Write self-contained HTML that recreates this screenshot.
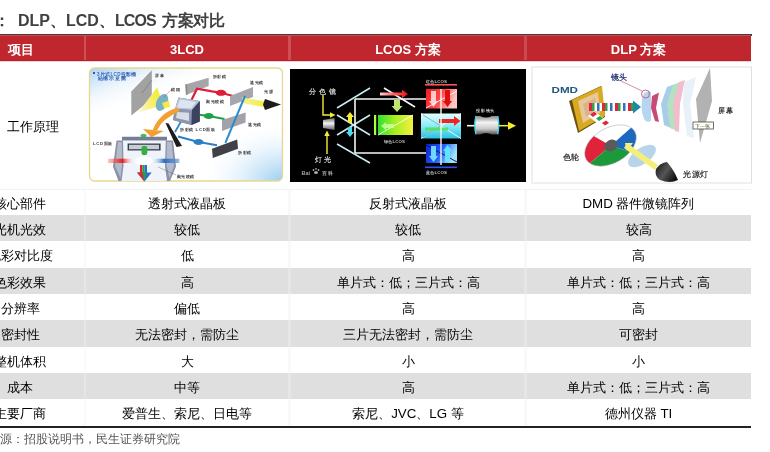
<!DOCTYPE html>
<html><head><meta charset="utf-8">
<style>
html,body{margin:0;padding:0;background:#fff;}
#cells,.hcell,#title,#title0,#title2,#src{will-change:transform;}
body{width:770px;height:452px;position:relative;overflow:hidden;font-family:"Liberation Sans",sans-serif;color:#222;}
.abs{position:absolute;}
#title0{left:-22.5px;top:9px;font-size:16px;font-weight:bold;color:#404040;white-space:nowrap;line-height:24px;}
#title{left:18px;top:9px;font-size:16px;font-weight:bold;color:#404040;white-space:nowrap;line-height:24px;}
#title2{left:162px;top:9px;font-size:16px;font-weight:bold;color:#404040;white-space:nowrap;line-height:24px;letter-spacing:-0.4px;}
#topline{left:0;top:33.5px;width:752px;height:2px;background:#3c3c3c;}
#hdr{left:0;top:35px;width:751px;height:25.7px;background:#c0262d;}
.hcell{position:absolute;top:36.5px;height:26.5px;line-height:26.5px;color:#fff;font-weight:bold;font-size:13px;text-align:center;}
.vline{position:absolute;width:1px;}
.row{position:absolute;left:0;width:751px;height:26.33px;}
.gray{background:#dfdfdf;}
.cell{position:absolute;height:26.33px;line-height:29.33px;font-size:13.3px;text-align:center;white-space:nowrap;color:#000;}
#botline{left:0;top:425.7px;width:751px;height:2px;background:#222;}
#src{left:-12px;top:430px;font-size:11.7px;color:#555;white-space:nowrap;line-height:18px;}
</style></head><body>
<div id="title0" class="abs">表：</div><div id="title" class="abs">DLP、LCD、<span style="letter-spacing:-0.9px">LCOS</span></div><div id="title2" class="abs">方案对比</div>
<div id="topline" class="abs"></div>
<div id="hdr" class="abs"></div>
<div class="hcell" style="left:-43px;width:128px;">项目</div>
<div class="hcell" style="left:84px;width:206px;">3LCD</div>
<div class="hcell" style="left:290px;width:236px;">LCOS 方案</div>
<div class="hcell" style="left:526px;width:225px;">DLP 方案</div>
<div class="abs" style="left:0;top:35px;width:751px;height:1.2px;background:#cc4a50;"></div>
<div class="abs" style="left:0;top:59.7px;width:751px;height:1px;background:#b81e26;"></div>
<div class="abs" style="left:0;top:60.7px;width:751px;height:1px;background:#f0d4d6;"></div>
<div class="vline" style="left:83.5px;top:36px;height:24px;width:2.5px;background:#cc5056;"></div>
<div class="vline" style="left:288.2px;top:36px;height:24px;width:2.5px;background:#cc5056;"></div>
<div class="vline" style="left:524px;top:36px;height:24px;width:2.5px;background:#c94a50;"></div>

<!-- image row -->
<div class="cell" style="left:7px;width:53px;top:61.5px;height:127px;line-height:130px;text-align:left;">工作原理</div>
<svg class="abs" style="left:84px;top:62px;" width="206" height="126" viewBox="84 62 206 126">
<defs>
<linearGradient id="bgTL" x1="0" y1="0" x2="0.35" y2="0.6"><stop offset="0" stop-color="#a8d0f0"/><stop offset="0.5" stop-color="#e4f0fa" stop-opacity="0.7"/><stop offset="1" stop-color="#ffffff" stop-opacity="0"/></linearGradient>
<radialGradient id="bgBR" cx="1" cy="1" r="0.75"><stop offset="0" stop-color="#98ccf0"/><stop offset="0.45" stop-color="#d4eafa" stop-opacity="0.8"/><stop offset="1" stop-color="#ffffff" stop-opacity="0"/></radialGradient>
<radialGradient id="bgBL" cx="0" cy="1" r="0.5"><stop offset="0" stop-color="#c8e0f4"/><stop offset="1" stop-color="#ffffff" stop-opacity="0"/></radialGradient>
<linearGradient id="ylw" x1="1" y1="0.3" x2="0" y2="0.8"><stop offset="0" stop-color="#f2ea30"/><stop offset="0.6" stop-color="#f6f080"/><stop offset="1" stop-color="#fbf8d0"/></linearGradient>
<linearGradient id="arR" x1="0" y1="0" x2="1" y2="0"><stop offset="0" stop-color="#f08070" stop-opacity="0.4"/><stop offset="0.55" stop-color="#e82020"/><stop offset="1" stop-color="#ffffff" stop-opacity="0.2"/></linearGradient>
<linearGradient id="arB" x1="0" y1="0" x2="1" y2="0"><stop offset="0" stop-color="#ffffff" stop-opacity="0.2"/><stop offset="0.45" stop-color="#2a6ec0"/><stop offset="1" stop-color="#5a90d0" stop-opacity="0.6"/></linearGradient>
<linearGradient id="frm" x1="0" y1="0" x2="1" y2="0"><stop offset="0" stop-color="#7a8298"/><stop offset="0.5" stop-color="#aab2c4"/><stop offset="1" stop-color="#6a7288"/></linearGradient>
<linearGradient id="ylb" x1="0" y1="0" x2="1" y2="0"><stop offset="0" stop-color="#f4f090"/><stop offset="1" stop-color="#f4ee40"/></linearGradient>
<clipPath id="lcdclip"><rect x="89.5" y="68" width="193" height="113" rx="5"/></clipPath>
<filter id="bl2"><feGaussianBlur stdDeviation="0.5"/></filter>
</defs>
<g filter="url(#bl2)">
<rect x="89.5" y="68" width="193" height="113" rx="5" fill="#fff"/>
<g clip-path="url(#lcdclip)">
<rect x="89" y="67" width="110" height="70" fill="url(#bgTL)"/>
<rect x="170" y="100" width="114" height="82" fill="url(#bgBR)"/>

</g>
<rect x="89.5" y="68" width="193" height="113" rx="5" fill="none" stroke="#e6d890" stroke-width="1.3"/>
<g font-family="Liberation Sans" font-weight="bold">
<!-- title -->
<rect x="93" y="72" width="2" height="2" fill="#2a5ab0"/>
<text x="97" y="75.5" font-size="4.6" fill="#3a68b8" letter-spacing="0.3">3片式LCD投影機</text>
<text x="97.5" y="80" font-size="4.6" fill="#3a68b8" letter-spacing="0.9">結構示意圖</text>
<g font-size="4.4" fill="#444" letter-spacing="0.6">
<text x="155" y="77">屏幕</text>
<text x="171" y="91">鏡頭</text>
<text x="212.5" y="77.5">折射鏡</text>
<text x="250" y="84">遮光鏡</text>
<text x="264" y="93">光源</text>
<text x="206" y="102.5">聚光稜鏡</text>
<text x="248" y="125.5">遮光鏡</text>
<text x="180" y="131">折射鏡 LCD面板</text>
<text x="238" y="154">折射鏡</text>
<text x="93" y="144.5">LCD面板</text>
<text x="176.5" y="178">聚光稜鏡</text>
</g>
</g>
<!-- screen -->
<polygon points="131.3,91.4 151.8,70.2 151.8,99 131.3,115.4" fill="#a2a2a2"/>
<line x1="142" y1="93" x2="152" y2="80" stroke="#555" stroke-width="0.4"/>
<!-- light cone -->
<polygon points="157.3,87.3 138,112.7 162.8,105" fill="url(#ylw)"/>
<ellipse cx="162" cy="102.4" rx="5.5" ry="9" fill="#78b0c8" transform="rotate(25 162 102.4)"/>
<polygon points="162,103 169,100.5 170,107 164,108" fill="#f2ec40"/>
<line x1="164" y1="97" x2="171" y2="90" stroke="#c04040" stroke-width="0.4"/>
<!-- top mirror -->
<polygon points="185.4,84.6 208.7,77.7 208.7,86 186,94.9" fill="#a6a6a8"/>
<polygon points="185.4,84.6 187,84.2 187.6,94.3 186,94.9" fill="#8a8a8c"/>
<!-- red path -->
<polyline points="191.5,100 197,88.7 212,91.4 221,92.8 234,96.2" fill="none" stroke="#e01a3a" stroke-width="2.2"/>
<ellipse cx="221" cy="92.8" rx="5.2" ry="3" fill="#e01a3a"/>
<!-- dichroic 1 -->
<polygon points="230,96 253,87 253,97 230,106" fill="#a6a6ae"/>
<!-- yellow beam + lamp -->
<polygon points="242,97.5 266,101.5 266,107.5 242,103" fill="url(#ylb)"/>
<polygon points="265,99 281,104.5 265,110 263,104.5" fill="#1c1c1c"/>
<!-- dichroic 2 -->
<polygon points="222,120.1 245.6,112.5 245.6,122.6 222,131" fill="#a2a2aa"/>
<!-- blue line from dichroic down -->
<line x1="245" y1="96" x2="225.4" y2="142.8" stroke="#2a8ccc" stroke-width="2"/>
<!-- green path -->
<polyline points="199,114.8 208.7,116 224.5,118.9" fill="none" stroke="#1ea048" stroke-width="2"/>
<ellipse cx="208.7" cy="116" rx="5" ry="3" fill="#1ea048"/>
<!-- bottom dark mirror -->
<polygon points="212,148.7 237.2,139.4 238,148.7 212.8,158" fill="#404048"/>
<!-- blue path -->
<polyline points="178,136.5 198.5,142 217,145.3" fill="none" stroke="#2a80c4" stroke-width="2"/>
<ellipse cx="198.5" cy="142" rx="5" ry="3" fill="#2a80c4"/>
<line x1="183" y1="118" x2="175" y2="132" stroke="#2a8ccc" stroke-width="1.8"/>
<!-- cube -->
<polygon points="178.5,97.6 199.8,101 199.8,121.6 191.5,125 173,120 175,109" fill="#6c7490"/>
<polygon points="178.5,97.6 199.8,101 192,110 175,109" fill="#b8c4d8"/>
<polygon points="180,99.5 196,102 191,108.5 177,107.5" fill="#dce6f2"/>
<polygon points="175,109 192,110 191.5,125 173,120" fill="#8c96b0"/>
<polygon points="177,112 189,112.8 189,121 176,118" fill="#d8dee8"/>
<polygon points="192,110 199.8,101 199.8,121.6 191.5,125" fill="#3a4260"/>
<!-- dark mirror -->
<polygon points="165.5,123 168.5,123.5 182,146 176.5,147" fill="#1a1a1a"/>
<!-- orange arrow -->
<path d="M179,109 Q175,109 172,110 Q158,116 153,130 L157,130 Q162,119 179,111.5 Z" fill="#f2a030"/>
<path d="M178,109.5 Q162,114 155,130" fill="none" stroke="#f2a030" stroke-width="4"/>
<polygon points="143,128.9 163.9,130.9 151.4,137.3" fill="#f2a030"/>
<!-- prism box -->
<ellipse cx="143.5" cy="135.5" rx="3" ry="1.8" fill="#40c050"/>
<polygon points="122,136.8 167,136.8 167,140.4 122,140.4" fill="#767e96"/>
<polygon points="121.8,141 166.3,141 165.6,181 121,181" fill="#eef4fa"/>
<polygon points="116.5,140.6 123,140.6 123.5,166 121.5,181 118.5,181 113,166.5" fill="#8a92aa"/>
<polygon points="118,142 121.8,142 122,165 120.5,178 115,166" fill="#b4bccc"/>
<polygon points="165.8,140.6 173,140.6 176,166.5 170,181 167,181 165,166" fill="#8a92aa"/>
<polygon points="167,142 171.5,142 174,166 169.5,178 166.5,165" fill="#b4bccc"/>
<rect x="127.6" y="143.5" width="33" height="7" fill="#3a3e50"/>
<rect x="129" y="144.8" width="30" height="4.4" fill="#c8ccd4"/>
<rect x="141.5" y="146" width="5.8" height="9" rx="2" fill="#30b040"/>
<ellipse cx="144" cy="161" rx="9" ry="5" fill="#fff" opacity="0.85"/>
<rect x="107.9" y="158.7" width="26.3" height="4.3" fill="url(#arR)"/>
<rect x="151.7" y="158.7" width="27.7" height="4.3" fill="url(#arB)"/>
<!-- output arrow -->
<rect x="140" y="165" width="2.4" height="9" fill="#e02828"/>
<rect x="142.4" y="165" width="2.2" height="9" fill="#28a040"/>
<rect x="144.6" y="165" width="2.4" height="9" fill="#2870c8"/>
<polygon points="137,172.5 151.7,172.5 144.4,181.5" fill="#2870c8"/>
<polygon points="137,172.5 142.5,172.5 144.4,181.5" fill="#e02828"/>
<polygon points="142.5,172.5 146.3,172.5 144.4,181.5" fill="#28a040"/>
<line x1="158" y1="167" x2="176" y2="175" stroke="#555" stroke-width="0.4"/>
</g>
</svg>

<svg class="abs" style="left:290px;top:69px;" width="236" height="113" viewBox="0 0 236 113">
<defs>
<linearGradient id="lgG" x1="0" y1="0" x2="1" y2="0"><stop offset="0" stop-color="#30e030"/><stop offset="0.5" stop-color="#a8f020"/><stop offset="1" stop-color="#f4f040"/></linearGradient>
<linearGradient id="lgR" x1="0" y1="0" x2="1" y2="0.3"><stop offset="0" stop-color="#ff1818"/><stop offset="0.55" stop-color="#ff4a4a"/><stop offset="1" stop-color="#ffc8c8"/></linearGradient>
<linearGradient id="lgB" x1="0" y1="0" x2="1" y2="0.3"><stop offset="0" stop-color="#0a20d0"/><stop offset="0.55" stop-color="#2060ff"/><stop offset="1" stop-color="#a0e0ff"/></linearGradient>
<linearGradient id="lgC" x1="0" y1="0" x2="0" y2="1"><stop offset="0" stop-color="#e0ffff"/><stop offset="0.45" stop-color="#90f0fa"/><stop offset="1" stop-color="#28c0e0"/></linearGradient>
<linearGradient id="lgL" x1="0" y1="0" x2="0" y2="1"><stop offset="0" stop-color="#888"/><stop offset="0.35" stop-color="#f4f4f4"/><stop offset="0.7" stop-color="#c8c8c8"/><stop offset="1" stop-color="#505050"/></linearGradient>
<linearGradient id="lgLamp" x1="0" y1="0" x2="0" y2="1"><stop offset="0" stop-color="#707070"/><stop offset="0.45" stop-color="#f0f0f0"/><stop offset="1" stop-color="#606060"/></linearGradient>
<linearGradient id="lgRA" x1="0" y1="0" x2="1" y2="0"><stop offset="0" stop-color="#ffd0d0"/><stop offset="0.5" stop-color="#ff6060"/><stop offset="1" stop-color="#e81010"/></linearGradient>
<filter id="bl1"><feGaussianBlur stdDeviation="0.4"/></filter>
</defs>
<rect x="0" y="0" width="236" height="113" fill="#000"/>
<g filter="url(#bl1)">
<!-- left labels -->
<g font-family="Liberation Sans" font-weight="bold" fill="#d0d0d0">
<text x="18.5" y="24.5" font-size="6.6" letter-spacing="3.4">分色镜</text>
<text x="24.5" y="93" font-size="6.6" letter-spacing="2.6">灯光</text>
<text x="11.5" y="106" font-size="5.4" fill="#a8a8a8">Bai</text>
<circle cx="23.5" cy="101" r="0.9" fill="#a8a8a8"/><circle cx="26" cy="99.8" r="0.9" fill="#a8a8a8"/><circle cx="28.5" cy="101" r="0.9" fill="#a8a8a8"/><ellipse cx="26" cy="103.6" rx="2" ry="1.5" fill="#a8a8a8"/>
<text x="32" y="106" font-size="5.4" fill="#a8a8a8" letter-spacing="0.6">百科</text>
<text x="94" y="73.5" font-size="4.3" fill="#c0c0c0" letter-spacing="0.2">绿色LCOS</text>
<text x="136" y="13.5" font-size="4.3" fill="#c0c0c0" letter-spacing="0.2">红色LCOS</text>
<text x="136" y="104.5" font-size="4.3" fill="#c0c0c0" letter-spacing="0.2">蓝色LCOS</text>
<text x="186.4" y="43" font-size="4.3" fill="#c0c0c0" letter-spacing="0.6">投影镜头</text>
</g>
<!-- yellow L arrow -->
<polyline points="33,26 33,46 41,46" fill="none" stroke="#f4ec30" stroke-width="1.4"/>
<polygon points="40,43.3 45.5,46 40,48.7" fill="#f4ec30"/>
<line x1="37" y1="85" x2="37" y2="66" stroke="#f4ec30" stroke-width="1.4"/>
<polygon points="34.3,67 37,61.5 39.7,67" fill="#f4ec30"/>
<!-- lamp -->
<polygon points="33,51 44.5,49 44.5,61 33,59" fill="url(#lgLamp)"/>
<!-- mirrors -->
<g stroke="#c8eef4" stroke-width="1.5">
<line x1="47" y1="39" x2="80" y2="19"/>
<line x1="47" y1="46" x2="80" y2="66"/>
<line x1="47" y1="66" x2="80" y2="46"/>
<line x1="47" y1="75" x2="80" y2="94"/>
</g>
<!-- white lines -->
<g stroke="#f8f8f8" stroke-width="1.6">
<line x1="65" y1="30" x2="65" y2="84"/>
<line x1="65" y1="30" x2="136" y2="30"/>
<line x1="65" y1="84" x2="136" y2="84"/>
<line x1="94" y1="19" x2="125" y2="38"/>
<line x1="177" y1="56.7" x2="185" y2="56.7"/>
</g>
<!-- small arrows -->
<polygon points="58,54 58,48 56,48 60,43 64,48 62,48 62,54" fill="#f4ec30"/>
<polygon points="58,58 58,63 56,63 60,68 64,63 62,63 62,58" fill="#50d8f0"/>
<!-- green LCOS -->
<rect x="84" y="46" width="2.2" height="20" fill="#a8ff30"/>
<rect x="88" y="46" width="35" height="20" fill="url(#lgG)"/>
<line x1="88" y1="66" x2="123" y2="46" stroke="#f8fff0" stroke-width="0.9"/>
<polygon points="104,55 96,55 96,53 91,57 96,61 96,59 104,59" fill="#d0ffa0" opacity="0.85"/>
<!-- red arrow top -->
<polygon points="90,23.5 112,23.5 112,20.8 118,25 112,29.2 112,26.5 90,26.5" fill="url(#lgRA)"/>
<!-- green down arrow -->
<polygon points="104,31 110,31 110,37 112.5,37 107,43 101.5,37 104,37" fill="#c0e870"/>
<!-- red LCOS -->
<rect x="135" y="15" width="32" height="1.6" fill="#ff5050"/>
<rect x="136" y="20" width="31" height="19.5" fill="url(#lgR)"/>
<line x1="136" y1="39" x2="167" y2="22" stroke="#fff" stroke-width="0.9"/>
<polygon points="141,22 146,22 146,32 148,32 143.5,38 139,32 141,32" fill="#fff" opacity="0.75"/>
<polygon points="155,21 160,21 160,32 162,32 157.5,38 153,32 155,32" fill="#e01010"/>
<!-- cyan prism -->
<rect x="131" y="44.5" width="40" height="25" fill="url(#lgC)"/>
<g stroke="#ffffff" stroke-width="0.9"><line x1="131" y1="44.5" x2="171" y2="69.5"/><line x1="131" y1="69.5" x2="171" y2="44.5"/></g>
<g stroke="#106070" stroke-width="0.7" opacity="0.7"><line x1="133" y1="46" x2="151" y2="57"/><line x1="133" y1="68" x2="151" y2="57"/></g>
<polygon points="149,50 164,50 164,47 170.5,52 164,57 164,54 149,54" fill="#ee2828"/>
<polygon points="135,58.5 158,58.5 158,61.5 135,61.5" fill="#50e050" opacity="0.85"/>
<!-- blue LCOS -->
<rect x="136" y="75" width="31" height="19" fill="url(#lgB)"/>
<line x1="136" y1="76" x2="167" y2="93" stroke="#101040" stroke-width="0.9"/>
<polygon points="155,93 160,93 160,82 162,82 157.5,76 153,82 155,82" fill="#60e8ff" opacity="0.95"/>
<polygon points="141,77 146,77 146,87 148,87 143.5,93 139,87 141,87" fill="#80f0ff" opacity="0.85"/>
<rect x="135" y="97.5" width="32" height="1.6" fill="#3050f0"/>
<!-- vertical line over blocks -->
<line x1="151" y1="20" x2="151" y2="96" stroke="#f8f8f8" stroke-width="1.4"/>
<!-- lens -->
<path d="M185,47 L190,47 Q196,50 202,47 L208.5,47 L208.5,65.5 L202,65.5 Q196,62.5 190,65.5 L185,65.5 Z" fill="url(#lgL)"/>
<path d="M186,47.5 Q183.5,56 186,65" fill="none" stroke="#40d8f0" stroke-width="1.4"/>
<path d="M207.5,47.5 Q210,56 207.5,65" fill="none" stroke="#40d8f0" stroke-width="1.4"/>
<line x1="209" y1="56.7" x2="219" y2="56.7" stroke="#f4ec30" stroke-width="1.5"/>
<polygon points="218,52.7 226,56.7 218,60.7" fill="#f4ec30"/>
</g>
</svg>

<svg class="abs" style="left:526px;top:62px;" width="230" height="126" viewBox="526 62 230 126">
<defs>
<linearGradient id="lamp" x1="0" y1="0" x2="1" y2="0.6"><stop offset="0" stop-color="#111"/><stop offset="0.55" stop-color="#555"/><stop offset="1" stop-color="#111"/></linearGradient>
<pattern id="stripe" width="13" height="8" patternUnits="userSpaceOnUse" x="589" y="103">
<rect width="13" height="8" fill="#fff"/><rect x="0" width="3" height="8" fill="#e02838"/><rect x="3" width="2.5" height="8" fill="#30a050"/><rect x="8" width="2.5" height="8" fill="#3070c0"/>
</pattern>
<clipPath id="wheelclip"><ellipse cx="610.5" cy="145.5" rx="28" ry="17.5" transform="rotate(-30 610.5 145.5)"/></clipPath>
<filter id="bl3"><feGaussianBlur stdDeviation="0.55"/></filter>
</defs>
<rect x="532" y="67" width="219.5" height="116" fill="#fff" stroke="#e0e0e0" stroke-width="1"/>
<g filter="url(#bl3)">
<text x="551.5" y="93.2" font-size="9" font-weight="bold" fill="#1f5a7c" font-family="Liberation Sans" textLength="26.5" lengthAdjust="spacingAndGlyphs">DMD</text>
<text x="611" y="79.5" font-size="7.6" font-weight="bold" fill="#2a3a7a" font-family="Liberation Sans" letter-spacing="0.3">镜头</text>
<line x1="621" y1="81" x2="642" y2="91" stroke="#c04070" stroke-width="0.6"/>
<!-- DMD chip -->
<polygon points="569,101 601,86 605,117 578,133" fill="#6a5010"/>
<polygon points="572,100 602,86 605,116 579,131" fill="#d8aa20"/>
<polygon points="578,101 598,92 600,113 583,123" fill="#e8c89a"/>
<polygon points="583,104 595,98 597,110 586,117" fill="#d8b488"/>
<!-- beams -->
<rect x="589" y="103" width="44" height="8" fill="url(#stripe)"/>
<polygon points="633,100.5 641,107 633,113.5" fill="#1f8aa0"/>
<polygon points="588,116 594,111 611,124 605,129" fill="#fff"/>
<polygon points="590,114.5 594,111.5 597,114 593,117" fill="#e02838"/>
<polygon points="596,118.5 600,116 603,118.5 599,121" fill="#30a050"/>
<polygon points="602,123 606,120.5 609,123 605,125.5" fill="#e02838"/>
<!-- color wheel -->
<g clip-path="url(#wheelclip)">
<ellipse cx="610.5" cy="145.5" rx="28" ry="17.5" transform="rotate(-30 610.5 145.5)" fill="#fff"/>
<polygon points="610.7,145.7 563,118.7 540,150 554,193.4" fill="#e0203a"/>
<polygon points="610.7,145.7 554,193.4 620,200 649.7,157.7" fill="#1f9a3a"/>
<polygon points="610.7,145.7 649.7,157.7 680,130 664.7,98" fill="#1f68c0"/>
</g>
<ellipse cx="610.5" cy="145.5" rx="28" ry="17.5" transform="rotate(-30 610.5 145.5)" fill="none" stroke="#aaa" stroke-width="0.5"/>
<ellipse cx="611" cy="145.5" rx="7" ry="5.5" fill="#5a5a5a" transform="rotate(-30 611 145.5)"/>
<text x="563" y="159.5" font-size="8" font-weight="bold" fill="#3a3a3a" font-family="Liberation Sans" letter-spacing="0.3">色轮</text>
<!-- filter + beam -->
<ellipse cx="642" cy="156" rx="16" ry="8" fill="#b8d4ea" transform="rotate(-35 642 156)"/>
<polygon points="627,143 658,165 655,170 624,148" fill="#f4ef78"/>
<polygon points="625,143 633,143 627,151" fill="#f4ef78"/>
<!-- lamp -->
<path d="M656,169 Q660,163 667,162 Q674,170 678,180 Q670,184 660,180 Q654,176 656,169 Z" fill="url(#lamp)"/>
<text x="683" y="177" font-size="7.8" font-weight="bold" fill="#3a3a3a" font-family="Liberation Sans" letter-spacing="0.6">光源灯</text>
<!-- lens -->
<path d="M644,93 Q650,90 651,92 L651,121 Q646,123 644,119 Q639,106 644,93 Z" fill="#b4d6ee"/>
<polygon points="652,96 659,92.5 656,108 659,122 655,121 651,108" fill="#c84a78"/>
<circle cx="645.5" cy="94" r="4" fill="none" stroke="#c04070" stroke-width="0.8"/>
<!-- bands -->
<polygon points="667,87 675,84 669,104 673,129 664,125 661,104" fill="#a8cdea"/>
<polygon points="673,85 680,82 675,104 678,131 670,128 667,104" fill="#b4e2c0"/>
<polygon points="679,82 685,80 680,104 679,132 675,131 673,104" fill="#f2bccc"/>
<polygon points="684,82 696,77 690,104 694,138 687,136 683,104" fill="#e8f0f8"/>
<!-- screen -->
<polygon points="710,68 712,101 700,143 696,99" fill="#b2b2b2"/>
<text x="717.5" y="112.5" font-size="7.2" font-weight="bold" fill="#333" font-family="Liberation Sans" letter-spacing="1.2">屏幕</text>
<rect x="693" y="122" width="20.5" height="7" fill="#fffff4" stroke="#333" stroke-width="0.7"/>
<text x="695" y="127.5" font-size="4.8" fill="#333" font-family="Liberation Sans">下一张</text>
</g>
</svg>


<div id="rows">
<div class="row" style="top:188.67px;"></div>
<div class="row gray" style="top:215px;"></div>
<div class="row" style="top:241.33px;"></div>
<div class="row gray" style="top:267.67px;"></div>
<div class="row" style="top:294px;"></div>
<div class="row gray" style="top:320.33px;"></div>
<div class="row" style="top:346.67px;"></div>
<div class="row gray" style="top:373px;"></div>
<div class="row" style="top:399.33px;"></div>
</div>
<div class="abs" style="left:0;top:188.8px;width:751px;height:1px;background:#f2f2f2;"></div>
<div class="vline" style="left:83.5px;top:188.67px;height:237px;width:2.5px;background:rgba(240,240,240,0.42);"></div>
<div class="vline" style="left:288.2px;top:188.67px;height:237px;width:2.5px;background:rgba(240,240,240,0.42);"></div>
<div class="vline" style="left:523.5px;top:188.67px;height:237px;width:3.5px;background:rgba(240,240,240,0.42);"></div>

<div id="cells">
<div class="cell" style="left:-44px;width:128px;top:188.67px;">核心部件</div>
<div class="cell" style="left:84px;width:206px;top:188.67px;">透射式液晶板</div>
<div class="cell" style="left:290px;width:236px;top:188.67px;">反射式液晶板</div>
<div class="cell" style="left:526px;width:225px;top:188.67px;">DMD 器件微镜阵列</div>

<div class="cell" style="left:-44px;width:128px;top:215px;">光机光效</div>
<div class="cell" style="left:84px;width:206px;top:215px;">较低</div>
<div class="cell" style="left:290px;width:236px;top:215px;">较低</div>
<div class="cell" style="left:526px;width:225px;top:215px;">较高</div>

<div class="cell" style="left:-44px;width:128px;top:241.33px;">色彩对比度</div>
<div class="cell" style="left:84px;width:206px;top:241.33px;">低</div>
<div class="cell" style="left:290px;width:236px;top:241.33px;">高</div>
<div class="cell" style="left:526px;width:225px;top:241.33px;">高</div>

<div class="cell" style="left:-44px;width:128px;top:267.67px;">色彩效果</div>
<div class="cell" style="left:84px;width:206px;top:267.67px;">高</div>
<div class="cell" style="left:290px;width:236px;top:267.67px;">单片式：低；三片式：高</div>
<div class="cell" style="left:526px;width:225px;top:267.67px;">单片式：低；三片式：高</div>

<div class="cell" style="left:-44px;width:128px;top:294px;">分辨率</div>
<div class="cell" style="left:84px;width:206px;top:294px;">偏低</div>
<div class="cell" style="left:290px;width:236px;top:294px;">高</div>
<div class="cell" style="left:526px;width:225px;top:294px;">高</div>

<div class="cell" style="left:-44px;width:128px;top:320.33px;">密封性</div>
<div class="cell" style="left:84px;width:206px;top:320.33px;">无法密封，需防尘</div>
<div class="cell" style="left:290px;width:236px;top:320.33px;">三片无法密封，需防尘</div>
<div class="cell" style="left:526px;width:225px;top:320.33px;">可密封</div>

<div class="cell" style="left:-44px;width:128px;top:346.67px;">整机体积</div>
<div class="cell" style="left:84px;width:206px;top:346.67px;">大</div>
<div class="cell" style="left:290px;width:236px;top:346.67px;">小</div>
<div class="cell" style="left:526px;width:225px;top:346.67px;">小</div>

<div class="cell" style="left:-44px;width:128px;top:373px;">成本</div>
<div class="cell" style="left:84px;width:206px;top:373px;">中等</div>
<div class="cell" style="left:290px;width:236px;top:373px;">高</div>
<div class="cell" style="left:526px;width:225px;top:373px;">单片式：低；三片式：高</div>

<div class="cell" style="left:-44px;width:128px;top:399.33px;">主要厂商</div>
<div class="cell" style="left:84px;width:206px;top:399.33px;">爱普生、索尼、日电等</div>
<div class="cell" style="left:290px;width:236px;top:399.33px;">索尼、JVC、LG 等</div>
<div class="cell" style="left:526px;width:225px;top:399.33px;">德州仪器 TI</div>
</div>

<div id="botline" class="abs"></div>
<div id="src" class="abs">来源：招股说明书，民生证券研究院</div>
</body></html>
